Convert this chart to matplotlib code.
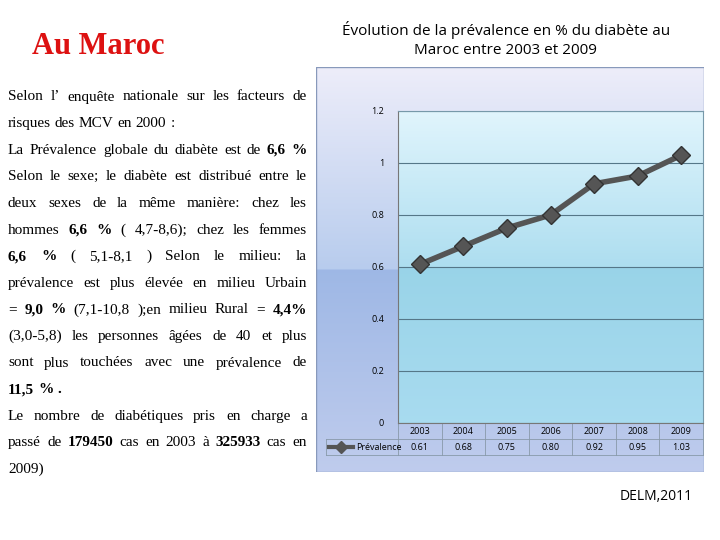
import matplotlib
matplotlib.use("Agg")
import matplotlib.pyplot as plt
import numpy as np
from matplotlib.lines import Line2D

years = ["2003", "2004", "2005", "2006", "2007", "2008", "2009"]
values = [0.61, 0.68, 0.75, 0.80, 0.92, 0.95, 1.03]
value_labels = ["0.61", "0.68", "0.75", "0.80", "0.92", "0.95", "1.03"]
yticks = [0, 0.2, 0.4, 0.6, 0.8, 1, 1.2]
ytick_labels = ["0", "0.2", "0.4", "0.6", "0.8", "1", "1.2"]

W, H = 720, 540
fig = plt.figure(figsize=(7.2, 5.4), dpi=100)
fig.patch.set_facecolor("white")

def px(x, y, w, h):
    return [x / W, 1 - (y + h) / H, w / W, h / H]

# outer chart panel
bg = fig.add_axes(px(316, 67, 388, 405))
bg.axis("off")
g = np.linspace(0, 1, 200)[:, None]
top = np.array([0.93, 0.93, 0.98])
mid = np.array([0.72, 0.80, 0.93])
low1 = np.array([0.62, 0.72, 0.90])
low2 = np.array([0.75, 0.80, 0.93])
img = np.zeros((200, 1, 3))
for i, t in enumerate(g[:, 0]):
    if t < 0.5:
        img[i, 0] = top + (mid - top) * t / 0.5
    else:
        img[i, 0] = low1 + (low2 - low1) * (t - 0.5) / 0.5
bg.imshow(img, aspect="auto", extent=[0, 1, 0, 1])
bg.set_xlim(0, 1); bg.set_ylim(0, 1)
bg.add_patch(plt.Rectangle((0, 0), 1, 1, fill=False, ec="#8899bb", lw=1))

ax = fig.add_axes(px(398, 111, 305, 312))
x = np.arange(len(years))
ax.set_xlim(-0.5, len(years) - 0.5)
ax.set_ylim(0, 1.2)
pimg = np.zeros((240, 1, 3))
for i in range(240):
    yv = 1.2 - i * 1.2 / 239
    if yv > 0.6:
        t = (1.2 - yv) / 0.6
        c = np.array([0.88, 0.96, 0.99]) + (np.array([0.68, 0.87, 0.94]) - np.array([0.88, 0.96, 0.99])) * t
    else:
        t = (0.6 - yv) / 0.6
        c = np.array([0.60, 0.83, 0.91]) + (np.array([0.66, 0.86, 0.94]) - np.array([0.60, 0.83, 0.91])) * t
    pimg[i, 0] = c
ax.imshow(pimg, aspect="auto", extent=[-0.5, len(years) - 0.5, 0, 1.2], zorder=0)
ax.set_yticks(yticks)
ax.set_yticklabels(ytick_labels, fontsize=6.5, family="Open Sans")
ax.tick_params(axis="y", length=0, pad=10)
ax.set_xticks([])
ax.grid(axis="y", color="#557788", lw=0.8, zorder=1)
for s in ["top", "right"]:
    ax.spines[s].set_color("#7799aa")
ax.spines["left"].set_color("#777777")
ax.spines["bottom"].set_color("#777777")
ax.plot(x, values, color="#555555", lw=4, marker="D", ms=9, mfc="#555555",
        mec="#333333", zorder=3, clip_on=False)

# data table
tr = ax.get_xaxis_transform()
rh = 16 / 312
for i in range(len(years)):
    ax.text(x[i], -rh / 2, years[i], transform=tr, ha="center", va="center", fontsize=6.5, family="Open Sans")
    ax.text(x[i], -1.5 * rh, value_labels[i], transform=tr, ha="center", va="center", fontsize=6.5, family="Open Sans")
lx0 = -0.5 - 72 / 305 * 7
for yy in [-rh, -2 * rh]:
    ax.add_line(Line2D([lx0, 6.5], [yy, yy], transform=tr, color="#8899aa", lw=0.6, clip_on=False))
ax.add_line(Line2D([lx0, lx0], [-rh, -2 * rh], transform=tr, color="#8899aa", lw=0.6, clip_on=False))
for b in np.arange(-0.5, 7.0, 1.0):
    ax.add_line(Line2D([b, b], [0, -2 * rh], transform=tr, color="#8899aa", lw=0.6, clip_on=False))
lxm = lx0 + 0.08
ax.add_line(Line2D([lxm, lxm + 0.55], [-1.5 * rh] * 2, transform=tr, color="#555555", lw=3, clip_on=False))
ax.add_line(Line2D([lxm + 0.275], [-1.5 * rh], transform=tr, color="#555555", marker="D", ms=6, clip_on=False))
ax.text(lxm + 0.6, -1.5 * rh, "Prévalence", transform=tr, ha="left", va="center", fontsize=6.5, family="Open Sans")

# titles
fig.text(506 / W, 1 - 30 / H, "Évolution de la prévalence en % du diabète au", ha="center", va="center", fontsize=11, family="Open Sans")
fig.text(506 / W, 1 - 50 / H, "Maroc entre 2003 et 2009", ha="center", va="center", fontsize=11, family="Open Sans")
fig.text(98 / W, 1 - 46 / H, "Au Maroc", ha="center", va="center", fontsize=22, color="#dd1111", weight="bold", family="Liberation Serif")
fig.text(656 / W, 1 - 497 / H, "DELM,2011", ha="center", va="center", fontsize=10, family="Open Sans")

# left body text, justified
lines = [
    ("Selon l’ enquête nationale sur les facteurs de", True),
    ("risques des  MCV en 2000 :", False),
    ("La Prévalence globale du diabète est de *6,6 %*", True),
    ("Selon le sexe; le diabète est distribué entre le", True),
    ("deux sexes de la même manière: chez les", True),
    ("hommes *6,6 %* ( 4,7-8,6); chez les femmes", True),
    ("*6,6 %* ( 5,1-8,1 ) Selon le milieu: la", True),
    ("prévalence est plus élevée en milieu Urbain", True),
    ("= *9,0 %* (7,1-10,8 );en milieu Rural = *4,4%*", True),
    ("(3,0-5,8) les personnes âgées de 40 et plus", True),
    ("sont plus touchées avec une prévalence de", True),
    ("*11,5 % .*", False),
    ("Le nombre de  diabétiques pris en charge a", True),
    ("passé de *179450* cas en 2003 à *325933* cas en", True),
    ("2009)", False),
]
fig.canvas.draw()
rend = fig.canvas.get_renderer()
X0, X1 = 8, 307
fs = 11
for li, (line, just) in enumerate(lines):
    yv = 97 + li * 26.6
    toks = []
    parts = line.split("*")
    for pi, part in enumerate(parts):
        bold = pi % 2 == 1
        for w in part.split():
            toks.append((w, bold))
    arts = []
    for w, b in toks:
        t = fig.text(0, 1 - yv / H, w, ha="left", va="center", fontsize=fs,
                     family="Liberation Serif", weight="bold" if b else "normal")
        arts.append(t)
    widths = [a.get_window_extent(rend).width for a in arts]
    t1 = fig.text(0, 0, "a a", fontsize=fs, family="Liberation Serif")
    t2 = fig.text(0, 0, "aa", fontsize=fs, family="Liberation Serif")
    sw = t1.get_window_extent(rend).width - t2.get_window_extent(rend).width
    t1.remove(); t2.remove()
    if just and len(arts) > 1:
        gap = (X1 - X0 - sum(widths)) / (len(arts) - 1)
    else:
        gap = sw
    cx = X0
    for a, w in zip(arts, widths):
        a.set_x(cx / W)
        cx += w + gap

fig.savefig("out.png", dpi=100)
